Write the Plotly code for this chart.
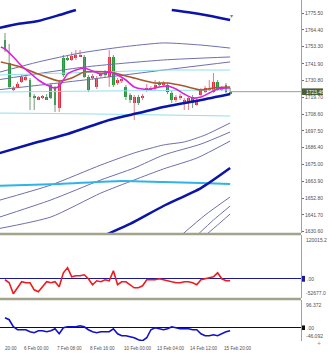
import plotly.graph_objects as go

# ---------------- data ----------------
opens  = [1751.1,1726.6,1725.9,1728.6,1733.2,1733.2,1719.9,1719.3,1719.9,1720.6,1718.6,1719.3,1714.6,1729.2,1734.5,
          1744.5,1747.1,1747.8,1747.8,1733.2,1724.6,1733.9,1732.5,1735.2,1734.5,1746.5,1727.9,1731.2,1731.9,1719.9,
          1717.9,1719.9,1715.9,1720.6,1725.9,1725.9,1727.9,1727.9,1729.2,1723.2,1717.9,1719.9,1720.6,1717.9,1719.3,
          1715.9,1717.9,1724.6,1725.9,1725.9,1729.9,1724.6,1725.9,1723.2,1722.0]
highs  = [1762.4,1755.1,1727.2,1729.9,1734.5,1733.9,1732.5,1721.9,1720.6,1721.3,1721.9,1729.2,1727.2,1731.2,1747.8,
          1747.8,1749.8,1751.1,1751.1,1747.8,1734.5,1735.2,1733.9,1736.5,1737.8,1751.1,1747.8,1732.5,1733.2,1727.9,
          1722.6,1721.3,1721.3,1721.9,1728.6,1727.2,1731.2,1730.5,1730.5,1729.2,1723.9,1721.3,1721.9,1719.3,1720.6,
          1721.3,1719.3,1725.9,1727.2,1731.2,1735.9,1731.2,1727.2,1729.2,1726.0]
lows   = [1749.8,1725.9,1723.9,1725.9,1729.2,1730.5,1711.3,1711.3,1717.9,1718.6,1717.9,1718.6,1710.0,1710.0,1733.2,
          1743.8,1743.8,1744.5,1746.5,1732.5,1723.2,1731.2,1725.2,1732.5,1733.2,1726.6,1726.6,1727.9,1729.2,1717.9,
          1715.9,1704.7,1714.6,1717.9,1723.2,1723.9,1724.6,1726.6,1726.6,1721.9,1715.9,1716.6,1717.9,1711.3,1711.3,
          1712.6,1714.0,1720.6,1722.6,1723.9,1722.6,1723.9,1723.9,1722.6,1721.5]
closes = [1757.8,1742.5,1724.6,1726.6,1729.9,1731.2,1731.2,1720.6,1718.6,1719.3,1719.9,1727.9,1726.6,1712.6,1745.8,
          1745.8,1744.5,1745.8,1747.1,1746.5,1733.2,1732.5,1726.6,1733.9,1735.9,1733.2,1746.5,1729.2,1730.5,1726.6,
          1721.3,1715.9,1719.9,1719.3,1724.6,1724.6,1725.9,1729.2,1727.9,1727.9,1722.6,1717.9,1719.3,1715.9,1715.9,
          1719.9,1714.6,1721.3,1723.2,1724.6,1723.2,1729.9,1724.6,1727.9,1723.46]

last_price = 1723.46

# indicator lines (bar index, price)
ub_x = [-2, 3, 8, 13, 17, None, 40, 44, 49, 54]
ub_y = [1765.4, 1768.4, 1770.4, 1774.3, 1777.7, None, 1777.7, 1776.2, 1773.8, 1771.0]
mb_x = [-2, 7, 15, 25, 32, 38, 47, 54]
mb_y = [1682.1, 1689.4, 1695.4, 1704.7, 1709.3, 1713.3, 1717.9, 1721.9]
lb_x = [23, 25, 30, 38, 47, 54]
lb_y = [1627.0, 1629.5, 1635.7, 1647.6, 1659.5, 1672.8]
tc_x = [-2, 13, 28, 38, 47, 54]
tc_y = [1660.9, 1662.2, 1664.2, 1663.5, 1662.9, 1662.2]

pl1_x = [-2, 11, 23, 31, 38, 43, 48, 54]
pl1_y = [1650.9, 1661.5, 1674.8, 1682.8, 1688.1, 1690.1, 1694.7, 1702.7]
pl2_x = [-2, 11, 23, 31, 38, 47, 54]
pl2_y = [1639.6, 1651.6, 1664.9, 1672.8, 1681.4, 1688.7, 1696.7]
pl3_x = [-2, 11, 23, 31, 38, 46, 54]
pl3_y = [1632.3, 1640.3, 1656.2, 1664.9, 1672.2, 1679.4, 1690.7]
br1_x = [42, 48, 54]; br1_y = [1627.5, 1641.6, 1653.6]
br2_x = [46, 50, 54]; br2_y = [1628.0, 1638.3, 1647.6]
br3_x = [48, 51, 54]; br3_y = [1628.0, 1635.0, 1642.3]

pu1_x = [-2, 8, 18, 28, 38, 47, 54]
pu1_y = [1735.9, 1743.2, 1749.1, 1753.1, 1755.8, 1754.4, 1752.4]
pu2_x = [-2, 19, 38, 54]; pu2_y = [1731.2, 1739.8, 1744.5, 1746.5]
pu3_x = [-2, 19, 38, 54]; pu3_y = [1724.6, 1731.2, 1737.8, 1743.2]

lc1_x = [-2, 23, 38, 54]; lc1_y = [1734.5, 1736.5, 1737.8, 1737.8]
lc2_x = [-2, 23, 54];     lc2_y = [1723.2, 1723.9, 1724.6]
lc3_x = [-2, 23, 54];     lc3_y = [1709.3, 1708.6, 1707.3]

ma_fast_x = [-1,0,2,4,6,8,10,12,13,14,15,17,19,21,23,25,27,29,31,33,35,37,39,41,43,45,47,49,51,53,54]
ma_fast_y = [1753.1,1751.8,1746.5,1740.5,1735.9,1731.2,1727.9,1725.9,1727.2,1731.2,1735.2,1737.8,1739.2,1737.2,
             1735.2,1736.5,1734.5,1731.2,1726.6,1725.2,1725.2,1726.6,1727.2,1725.2,1721.9,1719.3,1719.9,1722.6,
             1725.2,1725.9,1725.9]
ma_slow_x = [-1,3,8,13,16,19,25,31,36,39,43,47,50,54]
ma_slow_y = [1743.2,1740.5,1735.2,1730.5,1732.5,1736.5,1736.5,1732.5,1729.2,1729.2,1727.2,1724.6,1725.9,1726.6]

osc1 = [-2.7,-11.0,-41.1,-24.7,-8.2,-11.0,-11.0,-30.2,-35.6,-21.9,-8.2,-11.0,-8.2,-21.9,16.4,30.2,5.5,8.2,8.2,
        11.0,0.0,-16.4,-5.5,-8.2,-2.7,-5.5,21.9,-16.4,-8.2,-8.2,-16.4,-24.7,-24.7,-19.2,-2.7,-2.7,-2.7,0.0,-2.7,
        -5.5,-8.2,-11.0,-11.0,-8.2,-8.2,-11.0,-16.4,-2.7,0.0,2.7,5.5,16.4,0.0,-5.5,-5.5]  # thousands
osc2 = [34.8,27.8,3.5,-7.0,-7.0,-7.0,-13.9,-17.4,-10.4,-10.4,-13.9,-10.4,-3.5,-20.9,0.0,3.5,3.5,3.5,7.0,3.5,
        -7.0,-13.9,-17.4,-13.9,-13.9,-13.9,-3.5,-20.9,-27.8,-27.8,-31.3,-34.8,-41.7,-45.2,-34.8,-7.0,0.0,-3.5,
        -7.0,-3.5,3.5,0.0,-3.5,-3.5,-3.5,-7.0,-7.0,-20.9,-27.8,-27.8,-24.3,-27.8,-20.9,-13.9,-10.4]

price_ticks = [1775.50,1764.40,1753.30,1741.90,1730.80,1719.70,1708.60,1697.50,1686.40,1675.00,1663.90,1652.80,1641.70,1630.60]
time_ticks = [-0.5, 4, 12, 20, 28, 36, 44, 52]
time_labels = ["20:00","6 Feb 00:00","7 Feb 08:00","8 Feb 16:00","10 Feb 00:00","13 Feb 04:00","14 Feb 12:00","15 Feb 20:00"]
osc1_lbl = ["120015.2", "-52677.0"]
osc2_lbl = ["96.372", "-46.092"]

# ---------------- figure ----------------
W, H = 328, 354
PW, PH = 301, 341
fig = go.Figure()
n = len(opens)
idx = list(range(n))
GREEN, RED = "#1f9a35", "#e3283c"

# wicks
for up, col in ((True, "#6f9a78"), (False, "#e07a88")):
    wx, wy = [], []
    for i in idx:
        if (closes[i] >= opens[i]) == up:
            wx += [i, i, None]; wy += [lows[i], highs[i], None]
    fig.add_trace(go.Scatter(x=wx, y=wy, mode="lines", line=dict(color=col, width=1), xaxis="x", yaxis="y"))

# bodies
base = [min(o, c) for o, c in zip(opens, closes)]
hgt = [max(abs(c - o), 1.0) for o, c in zip(opens, closes)]
cols = [GREEN if c >= o else RED for o, c in zip(opens, closes)]
fig.add_trace(go.Bar(x=idx, y=hgt, base=base, width=0.7, marker=dict(color=cols, line=dict(width=0)),
                     xaxis="x", yaxis="y"))

def line(x, y, color, width, ax="y"):
    fig.add_trace(go.Scatter(x=x, y=y, mode="lines", line=dict(color=color, width=width, shape="spline", smoothing=0.6),
                             connectgaps=False, xaxis="x" if ax == "y" else "x" + ax[1:], yaxis=ax))

THIN = "#6f6fae"
CYAN = "#8fe0f0"
for lx, ly in ((pu1_x, pu1_y), (pu2_x, pu2_y), (pu3_x, pu3_y), (pl1_x, pl1_y), (pl2_x, pl2_y), (pl3_x, pl3_y),
               (br1_x, br1_y), (br2_x, br2_y), (br3_x, br3_y)):
    line(lx, ly, THIN, 1)
for lx, ly in ((lc1_x, lc1_y), (lc2_x, lc2_y), (lc3_x, lc3_y)):
    line(lx, ly, CYAN, 1)
line(tc_x, tc_y, "#2fb4e8", 2)
line(ub_x, ub_y, "#0a14a8", 2.5)
line(mb_x, mb_y, "#0a14a8", 2.5)
line(lb_x, lb_y, "#0a14a8", 2.5)
line(ma_slow_x, ma_slow_y, "#a8582a", 1.6)
line(ma_fast_x, ma_fast_y, "#e020e0", 1.6)

# oscillators
fig.add_trace(go.Scatter(x=idx, y=[v * 1000 for v in osc1], mode="lines", line=dict(color="#ee1c1c", width=1.6),
                         xaxis="x2", yaxis="y2"))
fig.add_trace(go.Scatter(x=idx, y=osc2, mode="lines", line=dict(color="#1010c8", width=1.6),
                         xaxis="x3", yaxis="y3"))

# price line
fig.add_trace(go.Scatter(x=[n - 1, 80], y=[last_price, last_price], mode="lines",
                         line=dict(color="#9a9a9a", width=1), xaxis="x", yaxis="y"))

def pdom(top, bot):
    return [1 - bot / PH, 1 - top / PH]

xr = [-1.2, 71.0]
AX = "#a3a38b"
fig.update_layout(
    width=W, height=H, margin=dict(l=0, r=W - PW, t=0, b=H - PH),
    paper_bgcolor="white", plot_bgcolor="white", showlegend=False, bargap=0,
    xaxis=dict(domain=[0, 1], range=xr, anchor="y", visible=False),
    xaxis2=dict(domain=[0, 1], range=xr, anchor="y2", visible=False, matches="x"),
    xaxis3=dict(domain=[0, 1], range=xr, anchor="y3", visible=False, matches="x"),
    yaxis=dict(domain=pdom(0, 233), range=[1784.3 - 233 * 0.6636, 1784.3], side="right", anchor="x",
               tickvals=price_ticks, ticktext=["%.2f" % v for v in price_ticks], ticks="outside", ticklen=2,
               tickcolor="#707070", tickfont=dict(family="Liberation Sans", size=5, color="#505050"),
               showgrid=False, zeroline=False, showline=True, linecolor=AX, linewidth=1),
    yaxis2=dict(domain=pdom(235, 298), range=[-52677, 120015.2], side="right", anchor="x2", showticklabels=False,
                ticks="", showgrid=False, zeroline=True, zerolinecolor="#1a1a9a", zerolinewidth=1,
                showline=True, linecolor=AX, linewidth=1),
    yaxis3=dict(domain=pdom(300, 341), range=[-46.092, 96.372], side="right", anchor="x3", showticklabels=False,
                ticks="", showgrid=False, zeroline=True, zerolinecolor="#111111", zerolinewidth=1,
                showline=True, linecolor=AX, linewidth=1),
)

shapes = []
for yy in (234, 299):
    shapes.append(dict(type="line", xref="paper", yref="paper", x0=0, x1=1, y0=1 - yy / PH, y1=1 - yy / PH,
                       line=dict(color=AX, width=2.5)))
# current price box
shapes.append(dict(type="rect", xref="paper", yref="y", x0=302 / PW, x1=323 / PW, y0=last_price - 2.2,
                   y1=last_price + 2.2, fillcolor="#4c5e34", line=dict(width=0)))
# zero-level markers
shapes.append(dict(type="rect", xref="paper", yref="y2", x0=302 / PW, x1=305 / PW, y0=-8000, y1=8000,
                   fillcolor="#1a1a9a", line=dict(width=0)))
shapes.append(dict(type="rect", xref="paper", yref="y3", x0=302 / PW, x1=305 / PW, y0=-8, y1=8,
                   fillcolor="#111111", line=dict(width=0)))
fig.update_layout(shapes=shapes)

F = dict(family="Liberation Sans", size=5, color="#505050")
ann = []
ann.append(dict(xref="paper", yref="y", x=304 / PW, y=last_price, text="%.2f" % last_price, showarrow=False,
                xanchor="left", yanchor="middle", font=dict(family="Liberation Sans", size=5, color="white")))
ann.append(dict(xref="paper", yref="y2", x=304 / PW, y=120015.2, text=osc1_lbl[0], showarrow=False,
                xanchor="left", yanchor="top", font=F))
ann.append(dict(xref="paper", yref="y2", x=304 / PW, y=-52677, text=osc1_lbl[1], showarrow=False,
                xanchor="left", yanchor="bottom", font=F))
ann.append(dict(xref="paper", yref="y2", x=305 / PW, y=0, text=".00", showarrow=False,
                xanchor="left", yanchor="middle", font=F))
ann.append(dict(xref="paper", yref="y3", x=304 / PW, y=96.372, text=osc2_lbl[0], showarrow=False,
                xanchor="left", yanchor="top", font=F))
ann.append(dict(xref="paper", yref="y3", x=304 / PW, y=-46.092, text=osc2_lbl[1], showarrow=False,
                xanchor="left", yanchor="bottom", font=F))
ann.append(dict(xref="paper", yref="y3", x=305 / PW, y=0, text=".00", showarrow=False,
                xanchor="left", yanchor="middle", font=F))
for tx, tl in zip(time_ticks, time_labels):
    ann.append(dict(xref="x3", yref="paper", x=tx, y=-3 / PH, text=tl, showarrow=False,
                    xanchor="left", yanchor="top", font=dict(family="Liberation Sans", size=4.6, color="#505050")))
ann.append(dict(xref="paper", yref="paper", x=235 / PW, y=1 - 10 / PH, text="\u25be", showarrow=False,
                font=dict(size=6, color="#808080")))
ann.append(dict(xref="paper", yref="paper", x=323 / PW, y=1 - 350 / PH, text="+", showarrow=False,
                font=dict(size=7, color="#909090")))
fig.update_layout(annotations=ann)

fig.write_html("out.html")
